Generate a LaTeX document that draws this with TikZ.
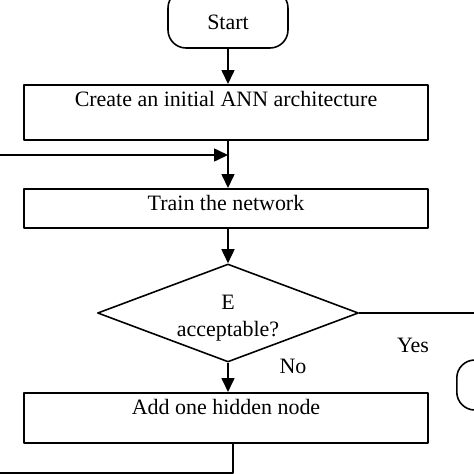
\documentclass[tikz,border=0pt]{standalone}
\usepackage{fontspec}
\setmainfont{Liberation Serif}
\usetikzlibrary{arrows.meta,shapes.geometric}
\begin{document}
\begin{tikzpicture}[x=0.02cm,y=-0.02cm,>={Triangle[length=0.28cm,width=0.26cm]},
	font=\fontsize{12.5}{15}\selectfont, line width=0.9pt, line join=round,
	term/.style={draw,rounded corners=0.36cm,minimum width=2.4cm,inner sep=0pt},
	box/.style={draw,inner sep=0pt,minimum width=8.08cm,text height=0.44cm},
	test/.style={draw,diamond,aspect=2.66,inner sep=0pt,minimum width=5.22cm,minimum height=1.96cm,align=center}]
	\useasboundingbox (0,0) rectangle (474,474);
	\clip (0,0) rectangle (474,474);
	% Nodes
	\node[term,text height=0.78cm,text depth=0.38cm,anchor=base] (start) at (228,29) {Start};
	\node[box,anchor=north,text depth=0.66cm] (init) at (226,84) {Create an initial ANN architecture};
	\coordinate (merge) at (228,155);
	\node[box,anchor=north,text depth=0.34cm] (train) at (226,188) {Train the network};
	\node[test,text height=1.02cm,text depth=0.1cm] (check) at (228,313) {E\\acceptable?};
	\node[box,anchor=north,text depth=0.56cm] (add) at (226,392) {Add one hidden node};
	\node[term,minimum height=1cm,anchor=west] (stop) at (456,385) {};
	\node (yes) at (413,345) {Yes};
	\node (no) at (293,366) {No};
	% Connectors
	\draw[->] (start.south) -- (start.south |- init.north);
	\draw (merge |- init.south) -- (merge);
	\draw[->] (merge) -- (merge |- train.north);
	\draw[->] (check.north |- train.south) -- (check.north);
	\draw[->] (check.south) -- (check.south |- add.north);
	\draw (check.east) -| (stop.north);
	\coordinate (back) at (233,473);
	\draw[->] (back |- add.south) -- (back) -- ++(-250,0) |- (merge);
\end{tikzpicture}
\end{document}
